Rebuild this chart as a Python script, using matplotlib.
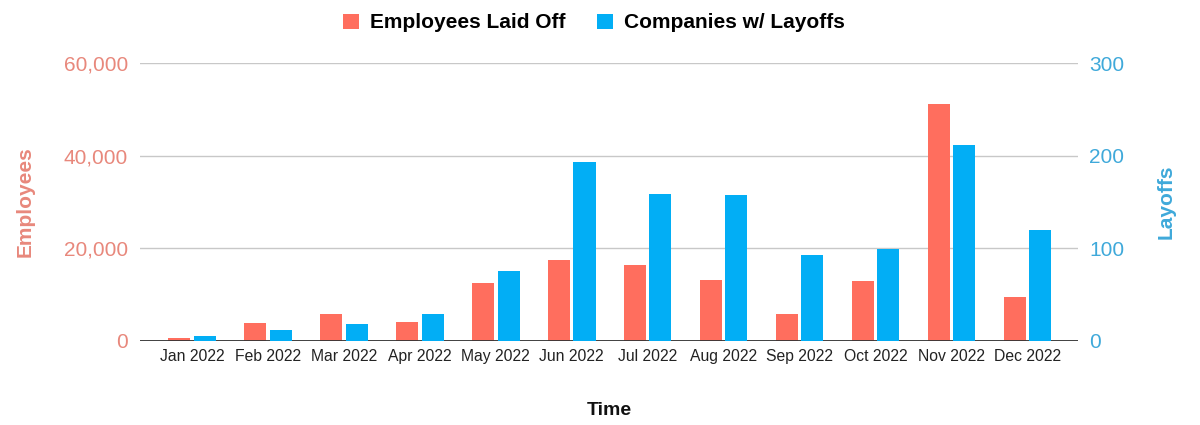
import numpy as np
import matplotlib
matplotlib.use('Agg')
import matplotlib.pyplot as plt

# data
months = ['Jan 2022', 'Feb 2022', 'Mar 2022', 'Apr 2022', 'May 2022', 'Jun 2022',
          'Jul 2022', 'Aug 2022', 'Sep 2022', 'Oct 2022', 'Nov 2022', 'Dec 2022']
employees = [700, 3800, 5850, 4100, 12600, 17400, 16300, 13200, 5800, 12900, 51100, 9500]
companies = [5, 12, 18, 29, 76, 193, 159, 158, 93, 99, 212, 120]

red = '#FF6E5E'
blue = '#02AEF5'
red_txt = '#E8887C'
blue_txt = '#3FA9DA'

plt.rcParams['font.family'] = ['Liberation Sans', 'DejaVu Sans']

fig = plt.figure(figsize=(12, 4.25), dpi=100)
ax = fig.add_axes([140 / 1200, 84 / 425, 938 / 1200, 278 / 425])
ax2 = ax.twinx()

x = np.arange(len(months))
w = 0.29
off = 0.168
ax.bar(x - off, employees, width=w, color=red, zorder=3, label='Employees Laid Off')
ax2.bar(x + off, companies, width=w, color=blue, zorder=3, label='Companies w/ Layoffs')

ax.set_xlim(-0.685, 11.666)
ax.set_ylim(0, 60000)
ax2.set_ylim(0, 300)
ax.set_yticks([0, 20000, 40000, 60000])
ax2.set_yticks([0, 100, 200, 300])
ax.set_yticklabels(['{:,}'.format(v) for v in [0, 20000, 40000, 60000]])

ax.grid(axis='y', color='#C8C8C8', lw=1, zorder=0)
ax.set_axisbelow(True)
for a in (ax, ax2):
    for s in ['top', 'left', 'right', 'bottom']:
        a.spines[s].set_visible(False)
ax.axhline(0, color='#333333', lw=1.3, zorder=4)

ax.set_xticks(x)
ax.set_xticklabels(months, fontsize=11.3, color='#222222')
ax.tick_params(axis='x', length=0, pad=6)
ax.tick_params(axis='y', length=0, labelsize=15, labelcolor=red_txt, pad=8.5)
ax2.tick_params(axis='y', length=0, labelsize=15, labelcolor=blue_txt, pad=8)

ax.set_ylabel('Employees', fontsize=15, fontweight='bold', color=red_txt, labelpad=21)
ax2.set_ylabel('Layoffs', fontsize=15, fontweight='bold', color=blue_txt, labelpad=23)
ax.set_xlabel('Time', fontsize=14, fontweight='bold', color='#111111', labelpad=27)

h1, l1 = ax.get_legend_handles_labels()
h2, l2 = ax2.get_legend_handles_labels()
fig.legend(h1 + h2, l1 + l2, loc='center', bbox_to_anchor=(0.495, 1 - 23 / 425), ncol=2,
           frameon=False, prop={'size': 15, 'weight': 'bold'}, handlelength=0.75,
           handleheight=0.75, handletextpad=0.55, columnspacing=1.5)

fig.savefig('out.png', dpi=100, facecolor='white')
